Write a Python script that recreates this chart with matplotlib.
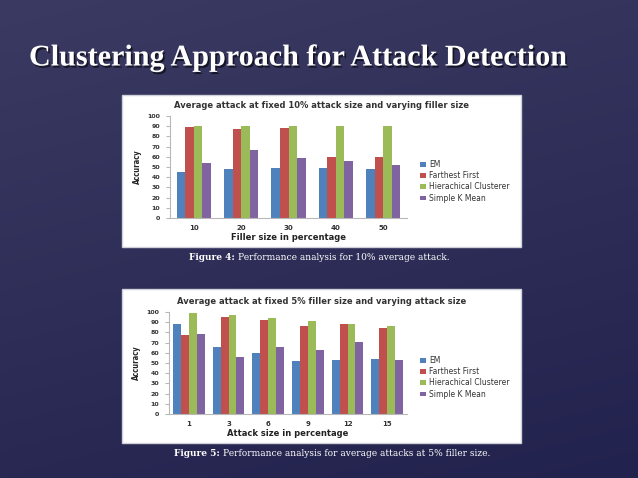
import numpy as np
import matplotlib
matplotlib.use("Agg")
import matplotlib.pyplot as plt
import matplotlib.patheffects as pe
from matplotlib.patches import Rectangle

# Data
methods = ["EM", "Farthest First", "Hierachical Clusterer", "Simple K Mean"]
colors = ["#4F81BD", "#C0504D", "#9BBB59", "#8064A2"]

filler_sizes = ["10", "20", "30", "40", "50"]
filler_em = [45, 48, 49, 49, 48]
filler_ff = [89, 87.5, 88, 60, 60]
filler_hc = [90, 90, 90, 90, 90]
filler_skm = [53.5, 67, 59, 56, 52]

attack_sizes = ["1", "3", "6", "9", "12", "15"]
attack_em = [88, 66, 59.5, 52, 53, 54]
attack_ff = [77, 95, 92.5, 86.5, 88, 84.5]
attack_hc = [99, 97, 94, 91, 88.5, 86]
attack_skm = [78, 56, 66, 63, 70.5, 52.5]

W, H = 638, 478
fig = plt.figure(figsize=(W / 100, H / 100), dpi=100)

# slide background gradient (lighter top-left, darker bottom)
bg = fig.add_axes([0, 0, 1, 1])
yy, xx = np.mgrid[0:1:200j, 0:1:200j]
top = np.array([0x3b, 0x3a, 0x62]) / 255
bot = np.array([0x22, 0x22, 0x4e]) / 255
t = np.clip(0.75 * yy + 0.25 * xx, 0, 1)[..., None]
bg.imshow(top * (1 - t) + bot * t, extent=[0, 1, 0, 1], aspect="auto")
bg.set_xlim(0, 1)
bg.set_ylim(0, 1)
bg.axis("off")


def fx(px):
    return px / W


def fy(py):
    return 1 - py / H


# slide title with shadow
fig.text(fx(29), fy(58), "Clustering Approach for Attack Detection",
         color="white", fontsize=21.7, fontweight="bold",
         family="Liberation Serif", va="center",
         path_effects=[pe.withSimplePatchShadow(offset=(1.2, -1.5),
                                                shadow_rgbFace="black",
                                                alpha=0.6)])


def draw_chart(box, axbox, title_y, cats, series, chart_title, xlabel,
               legend_y, width):
    x0, y0, x1, y1 = box
    fig.patches.append(Rectangle((fx(x0), fy(y1)), fx(x1 - x0), (y1 - y0) / H,
                                 transform=fig.transFigure, facecolor="white",
                                 edgecolor="#d0d0d8", zorder=1))
    l, tp, r, b = axbox
    ax = fig.add_axes([fx(l), fy(b), fx(r - l), (b - tp) / H])
    ax.set_zorder(2)
    ax.patch.set_alpha(0)
    x = np.arange(len(cats))
    for i, vals in enumerate(series):
        ax.bar(x + (i - 1.5) * width, vals, width, color=colors[i],
               label=methods[i])
    ax.set_xlim(-0.5, len(cats) - 0.5)
    ax.set_ylim(0, 100)
    ax.set_yticks(range(0, 101, 10))
    ax.set_xticks(x)
    ax.set_xticklabels(cats)
    for s in ["top", "right"]:
        ax.spines[s].set_visible(False)
    for s in ["left", "bottom"]:
        ax.spines[s].set_color("#b8b8b8")
        ax.spines[s].set_linewidth(0.8)
    ax.tick_params(axis="y", length=3, color="#b8b8b8", labelsize=4.5,
                   pad=4)
    ax.tick_params(axis="x", length=0, labelsize=5, pad=5)
    for lab in ax.get_xticklabels() + ax.get_yticklabels():
        lab.set_fontweight("bold")
        lab.set_color("#333333")
    ax.set_xlabel(xlabel, fontsize=6, fontweight="bold", color="#222222",
                  labelpad=1.5)
    ax.set_ylabel("Accuracy", fontsize=5.5, fontweight="bold",
                  color="#222222", labelpad=4, fontstretch="condensed")
    fig.text(fx((x0 + x1) / 2), fy(title_y), chart_title, ha="center",
             va="center", fontsize=6, fontweight="bold", color="#333333",
             zorder=3)
    ax.legend(loc="upper left", bbox_to_anchor=(fx(416), fy(legend_y)),
              bbox_transform=fig.transFigure, frameon=False, fontsize=5.5,
              handlelength=0.8, handleheight=0.6, handletextpad=0.4,
              labelspacing=0.3, borderpad=0, labelcolor="#333333")
    return ax


draw_chart((122, 95, 521, 247), (170, 116, 407, 218), 105, filler_sizes,
           [filler_em, filler_ff, filler_hc, filler_skm],
           "Average attack at fixed 10% attack size and varying filler size",
           "Filler size in percentage", 156, 0.18)

draw_chart((122, 289, 521, 443), (169, 312, 407, 414), 301, attack_sizes,
           [attack_em, attack_ff, attack_hc, attack_skm],
           "Average attack at fixed 5% filler size and varying attack size",
           "Attack size in percentage", 352, 0.2)


def caption(cx, cy, bold, rest):
    t1 = fig.text(0, 0, bold, fontsize=6.5, fontweight="bold",
                  family="DejaVu Serif", color="white")
    t2 = fig.text(0, 0, rest, fontsize=6.5, family="DejaVu Serif",
                  color="white")
    fig.canvas.draw()
    r = fig.canvas.get_renderer()
    w1 = t1.get_window_extent(r).width / W
    w2 = t2.get_window_extent(r).width / W
    start = fx(cx) - (w1 + w2) / 2
    t1.set_position((start, fy(cy)))
    t2.set_position((start + w1, fy(cy)))
    t1.set_va("center")
    t2.set_va("center")


caption(319, 257, "Figure 4: ", "Performance analysis for 10% average attack.")
caption(332, 453, "Figure 5: ",
        "Performance analysis for average attacks at 5% filler size.")

fig.savefig("out.png", dpi=100)
